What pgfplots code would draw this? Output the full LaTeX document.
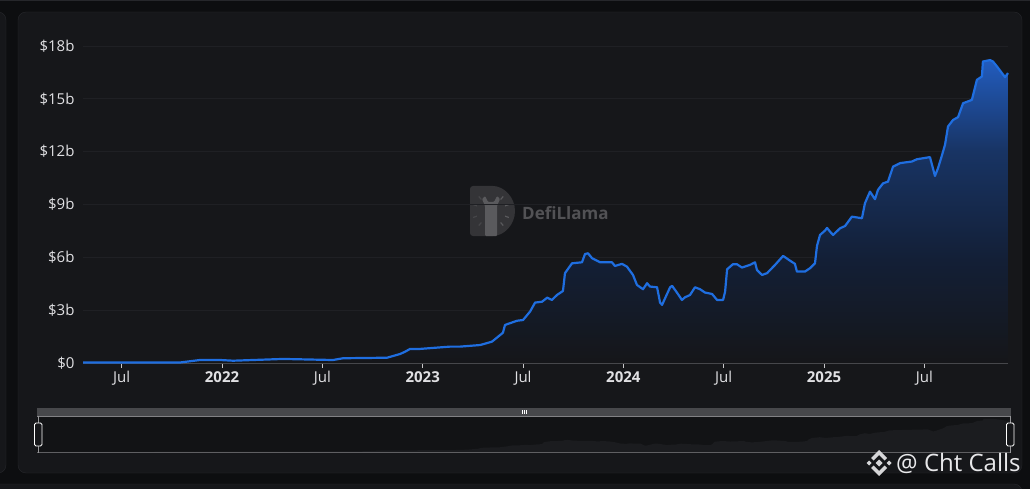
\documentclass[border=0pt]{standalone}
\usepackage{fontspec}
\setmainfont{Open Sans}
\usepackage{pgfplots}
\pgfplotsset{compat=1.18}
\usepackage{pgfplotstable}
\usetikzlibrary{calc}

\definecolor{outerbg}{RGB}{13,14,16}
\definecolor{panelbg}{RGB}{22,23,26}
\definecolor{panelline}{RGB}{38,39,43}
\definecolor{gridc}{RGB}{31,32,36}
\definecolor{axisc}{RGB}{78,79,83}
\definecolor{tickc}{RGB}{200,200,202}
\definecolor{labelc}{RGB}{224,224,227}
\definecolor{tvl}{RGB}{31,110,224}
\definecolor{ftop}{RGB}{34,92,190}
\definecolor{fmidb}{RGB}{24,52,100}
\definecolor{fmida}{RGB}{19,31,54}
\definecolor{fbot}{RGB}{21,22,25}
\definecolor{wmark}{RGB}{82,82,85}
\definecolor{wlogo}{RGB}{52,52,55}
\definecolor{wlight}{RGB}{90,90,93}
\definecolor{wdim}{RGB}{70,70,73}
\definecolor{slbar}{RGB}{71,72,75}
\definecolor{slbg}{RGB}{18,19,21}
\definecolor{slshadow}{RGB}{27,28,31}
\definecolor{slline}{RGB}{130,130,133}
\definecolor{slbottom}{RGB}{95,95,98}
\definecolor{slside}{RGB}{150,150,153}
\definecolor{markc}{RGB}{214,214,216}
\definecolor{markt}{RGB}{232,232,234}

% area fade: 25bp = value 0, 75bp = peak
\pgfdeclareverticalshading{tvlfade}{100bp}{color(0bp)=(fbot); color(25bp)=(fbot);
  color(42bp)=(fmida); color(60bp)=(fmidb); color(75bp)=(ftop); color(100bp)=(ftop)}

% DefiLlama TVL, $ billions; t = years since 1 Jan 2021
\pgfplotstableread{
t tvl
0.307 0.03
0.791 0.03
0.890 0.17
0.990 0.17
1.055 0.13
1.304 0.23
1.553 0.17
1.603 0.27
1.822 0.30
1.887 0.51
1.912 0.64
1.937 0.80
1.987 0.80
2.136 0.93
2.186 0.93
2.286 1.02
2.345 1.21
2.400 1.72
2.410 2.16
2.470 2.40
2.500 2.44
2.535 2.92
2.560 3.43
2.595 3.48
2.620 3.71
2.644 3.58
2.669 3.86
2.699 4.09
2.709 5.10
2.744 5.66
2.794 5.72
2.809 6.19
2.824 6.23
2.844 5.95
2.884 5.72
2.943 5.72
2.958 5.51
2.993 5.63
3.018 5.47
3.048 5.00
3.068 4.43
3.098 4.19
3.118 4.53
3.133 4.34
3.168 4.30
3.183 3.43
3.193 3.30
3.208 3.68
3.233 4.30
3.243 4.38
3.267 4.00
3.292 3.58
3.307 3.73
3.332 3.86
3.357 4.30
3.382 4.19
3.407 4.00
3.442 3.92
3.467 3.58
3.497 3.58
3.507 4.05
3.517 5.32
3.546 5.61
3.566 5.61
3.591 5.42
3.631 5.57
3.656 5.72
3.666 5.28
3.691 5.00
3.716 5.10
3.756 5.57
3.796 6.08
3.831 5.81
3.855 5.63
3.865 5.19
3.905 5.19
3.930 5.38
3.955 5.66
3.965 6.65
3.980 7.27
4.005 7.52
4.015 7.67
4.030 7.46
4.045 7.27
4.080 7.65
4.105 7.78
4.139 8.31
4.189 8.22
4.204 9.07
4.229 9.73
4.254 9.30
4.269 9.83
4.294 10.20
4.319 10.30
4.344 11.15
4.379 11.35
4.438 11.44
4.463 11.57
4.528 11.69
4.553 10.62
4.568 11.06
4.588 11.80
4.603 12.39
4.618 13.43
4.643 13.80
4.668 13.96
4.693 14.75
4.737 14.94
4.762 16.08
4.787 16.27
4.792 17.12
4.827 17.20
4.842 17.12
4.862 16.84
4.887 16.46
4.902 16.23
4.917 16.46
}\tvldata

\begin{document}
\begin{tikzpicture}
\begin{scope}[x=1pt,y=-1pt]
% page and panels
\fill[outerbg] (0,0) rectangle (1030,489);
\useasboundingbox (0,0) rectangle (1030,489);
\fill[panelline] (0,0) rectangle (1030,1.5);
\draw[panelline, fill=panelbg, rounded corners=8pt] (-30,12) rectangle (6,473);
\draw[panelline, fill=panelbg, rounded corners=8pt] (18,12) rectangle (1022,473);
\draw[panelline, fill=panelbg, rounded corners=8pt] (-30,484) rectangle (1022,530);

% watermark
\fill[wlogo, rounded corners=3pt] (470,236) -- (470,186) -- (490,186)
  arc[start angle=90, end angle=-90, radius=25pt] -- cycle;
\fill[wlight, rounded corners=1pt] (485,236) -- (485,206) -- (482,199) -- (485,196) -- (488,202)
  -- (494,202) -- (497,196) -- (500,199) -- (497,206) -- (497,236) -- cycle;
\foreach \a in {20,50,-20,-50} \draw[wlight, line width=1.2pt] ($(491,211)+(\a:15pt)$) -- ($(491,211)+(\a:19pt)$);
\foreach \a in {130,160,200,230} \draw[wdim, line width=1.2pt] ($(491,211)+(\a:15pt)$) -- ($(491,211)+(\a:19pt)$);
\node[anchor=west, inner sep=0pt, text=wmark, font=\fontsize{17}{20}\selectfont\bfseries] at (522,213) {DefiLlama};
\end{scope}

\begin{axis}[
  at={(83pt,-363pt)}, anchor=south west,
  scale only axis, width=925pt, height=317pt,
  xmin=0.307, xmax=4.917, ymin=0, ymax=18,
  axis lines*=left,
  x axis line style={color=axisc, line width=0.8pt},
  y axis line style={draw=none},
  tick align=outside, major tick length=5pt,
  xtick={0.5,1,1.5,2,2.5,3,3.5,4,4.5},
  xticklabels={Jul,\textbf{2022},Jul,\textbf{2023},Jul,\textbf{2024},Jul,\textbf{2025},Jul},
  ytick={0,3,6,9,12,15,18},
  yticklabels={\$0,\$3b,\$6b,\$9b,\$12b,\$15b,\$18b},
  x tick style={color=tickc, line width=0.8pt},
  y tick style={draw=none},
  ymajorgrids, grid style={color=gridc, line width=0.8pt},
  ticklabel style={text=labelc, font=\fontsize{15}{18}\selectfont},
  clip=false,
]
\addplot[draw=none, shading=tvlfade] table[x=t, y=tvl] {\tvldata} \closedcycle;
\addplot[tvl, line width=2.2pt, line join=round, no markers] table[x=t, y=tvl] {\tvldata};
\end{axis}

% zoom slider
\fill[slbg] (37pt,-416pt) rectangle (1010pt,-452pt);
\begin{axis}[
  at={(37pt,-452pt)}, anchor=south west,
  scale only axis, width=973pt, height=34pt,
  xmin=0.307, xmax=4.917, ymin=0, ymax=17.6,
  hide axis,
]
\addplot[draw=none, fill=slshadow] table[x=t, y=tvl] {\tvldata} \closedcycle;
\end{axis}

\begin{scope}[x=1pt,y=-1pt]
\fill[slbar] (37,408) rectangle (1011,416);
\draw[slline, line width=0.8pt] (37,416) -- (1010,416);
\draw[slbottom, line width=1pt] (37,452.5) -- (1010,452.5);
\draw[slside, line width=0.8pt] (38,416) -- (38,453);
\draw[slside, line width=0.8pt] (1010,416) -- (1010,453);
\draw[white, fill=panelbg, rounded corners=1.5pt, line width=0.8pt] (34.5,423) rectangle (42,446);
\draw[white, fill=panelbg, rounded corners=1.5pt, line width=0.8pt] (1006.5,423) rectangle (1014,446);
\foreach \gx in {522,524.2,526.4} \draw[white, line width=0.7pt] (\gx,410) -- (\gx,414);

% channel mark
\begin{scope}[fill=markc]
\fill (879,459.5) -- (882.5,463) -- (879,466.5) -- (875.5,463) -- cycle;
\fill (869,460.5) -- (871.5,463) -- (869,465.5) -- (866.5,463) -- cycle;
\fill (889,460.5) -- (891.5,463) -- (889,465.5) -- (886.5,463) -- cycle;
\fill (879,450) -- (887,458) -- (884.5,460.5) -- (879,455) -- (873.5,460.5) -- (871,458) -- cycle;
\fill (879,476) -- (887,468) -- (884.5,465.5) -- (879,471) -- (873.5,465.5) -- (871,468) -- cycle;
\end{scope}
\node[anchor=west, inner sep=0pt, text=markt, font=\fontsize{24}{28}\selectfont] at (896,463) {@ Cht Calls};
\end{scope}
\end{tikzpicture}
\end{document}
